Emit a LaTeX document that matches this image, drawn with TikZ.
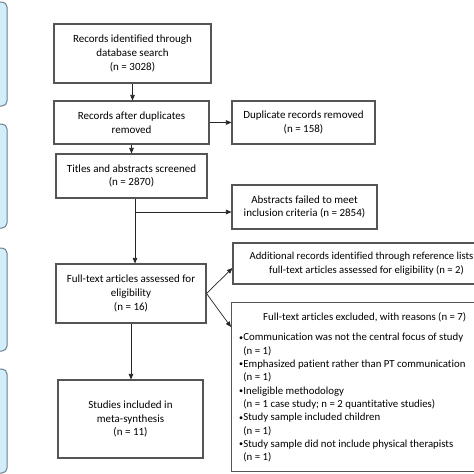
\documentclass[tikz,border=0pt]{standalone}
\usepackage{fontspec}
\setmainfont{Carlito}[Ligatures=NoCommon]
\usetikzlibrary{arrows.meta}
\definecolor{sidefill}{HTML}{D4EDFA}
\definecolor{sidedraw}{HTML}{6E808C}
\definecolor{boxdraw}{HTML}{555555}
\newcommand{\blt}{\makebox[4.2pt][l]{\raisebox{0.6pt}{\scalebox{0.75}{•}}}}
\newcommand{\ind}{\hspace*{4.2pt}}
\begin{document}
\begin{tikzpicture}[x=1pt,y=-1pt,
  box/.style={draw=boxdraw, line width=1.1pt, fill=white, align=center, inner sep=0pt,
    font=\fontsize{11}{13.6}\selectfont},
  txt/.style={align=left, inner sep=0pt, font=\fontsize{10.8}{13.3}\selectfont},
  side/.style={draw=sidedraw, line width=1pt, fill=sidefill, rounded corners=5pt},
  arr/.style={-{Triangle[length=5.5pt,width=4.5pt]}, line width=0.7pt, draw=black!85},
  ln/.style={line width=0.7pt, draw=black!85}]
\useasboundingbox (0,0) rectangle (474,474);
\clip (0,0) rectangle (474,474);
\fill[white] (0,0) rectangle (474,474);
% side bars
\draw[side] (-20,2) rectangle (7,106);
\draw[side] (-20,124) rectangle (7,228);
\draw[side] (-20,248) rectangle (7,351);
\draw[side] (-20,369) rectangle (7,473);
% main boxes
\node[box, minimum width=157pt, minimum height=59pt] (a) at (132.5,53.5)
  {Records identified through\\database search\\(n = 3028)};
\node[box, minimum width=155pt, minimum height=43pt] (b) at (131.5,122.5)
  {Records after duplicates\\removed};
\node[box, minimum width=151pt, minimum height=44pt] (c) at (131.5,176)
  {Titles and abstracts screened\\(n = 2870)};
\node[box, minimum width=143pt, minimum height=43pt] (d) at (303.5,122.5)
  {Duplicate records removed\\(n = 158)};
\node[box, minimum width=145pt, minimum height=44pt] (e) at (304.5,207)
  {Abstracts failed to meet\\inclusion criteria (n = 2854)};
\node[box, minimum width=150pt, minimum height=59pt] (f) at (131,293.5)
  {Full-text articles assessed for\\eligibility\\(n = 16)};
\node[box, minimum width=145pt, minimum height=78pt] (g) at (130.5,419)
  {Studies included in\\meta-synthesis\\(n = 11)};
\node[box, minimum width=257pt, minimum height=41pt, font=\fontsize{10.7}{13.6}\selectfont] (h) at (361.5,263.5)
  {Additional records identified through reference lists\\
   \hspace*{10pt}full-text articles assessed for eligibility (n = 2)};
\node[box, minimum width=264pt, minimum height=169pt, anchor=north west] (i) at (231,302) {};
\node[txt, anchor=north west] (itext) at (239,312)
  {\hspace*{24pt}Full-text articles excluded, with reasons (n = 7)\\[7.5pt]
   \blt Communication was not the central focus of study\\
   \ind(n = 1)\\
   \blt Emphasized patient rather than PT communication\\
   \ind(n = 1)\\
   \blt Ineligible methodology\\
   \ind(n = 1 case study; n = 2 quantitative studies)\\
   \blt Study sample included children\\
   \ind(n = 1)\\
   \blt Study sample did not include physical therapists\\
   \ind(n = 1)};
% connectors
\draw[arr] (a.south) -- (a.south |- b.north);
\draw[arr] (b.east) -- (d.west);
\draw[arr] (b.south) -- (b.south |- c.north);
\coordinate (cf) at (135,212);
\draw[ln] (c.south -| cf) -- (cf);
\draw[arr] (cf) -- (cf |- f.north);
\draw[arr] (cf) -- (cf -| e.west);
\draw[arr] (f.south) -- (f.south |- g.north);
\draw[arr] (f.east) -- ([yshift=-4.5pt]h.west);
\draw[arr] (f.east) -- ([yshift=-25pt]i.north west);
\end{tikzpicture}
\end{document}
